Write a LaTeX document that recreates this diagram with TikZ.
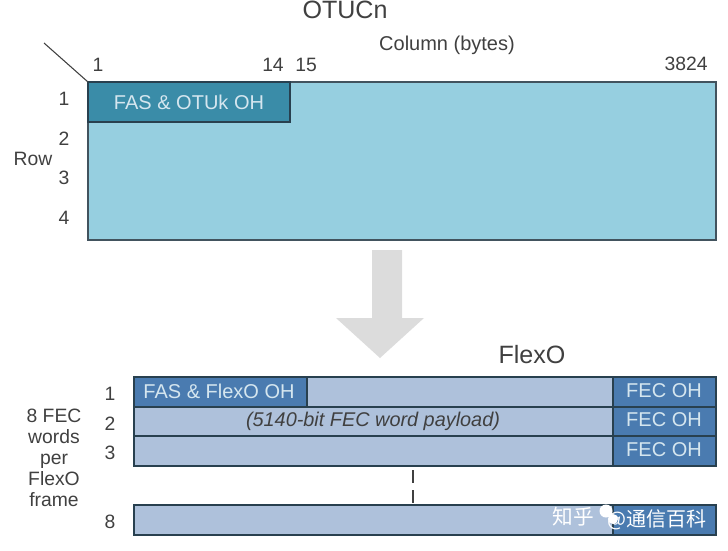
\documentclass[tikz,border=0pt]{standalone}
\usepackage{fontspec}
\setmainfont{Liberation Sans}
\newfontfamily\cjk{Noto Sans CJK SC}
\definecolor{txt}{HTML}{404040}
\definecolor{otu}{HTML}{96CFE0}
\definecolor{otud}{HTML}{3A8CA8}
\definecolor{flex}{HTML}{AEC1DB}
\definecolor{flexd}{HTML}{4A7BB0}
\definecolor{edge}{HTML}{28404F}
\definecolor{arrowg}{HTML}{DCDCDC}
\definecolor{softtxt}{HTML}{D5E6EF}
\tikzset{
  lbl/.style={text=txt,font=\fontsize{14.5}{17}\selectfont,inner sep=0pt},
  ttl/.style={text=txt,font=\fontsize{18.8}{22}\selectfont,inner sep=0pt},
  onDark/.style={text=softtxt,font=\fontsize{15}{18}\selectfont,inner sep=0pt},
  otubox/.style={draw=edge!70!gray,line width=1pt,fill=otu},
  otuhead/.style={draw=edge,line width=1.1pt,fill=otud},
  flexbox/.style={draw=edge,line width=1.1pt,fill=flex},
  flexhead/.style={draw=edge,line width=1.1pt,fill=flexd},
}
\begin{document}
\begin{tikzpicture}[x=0.75pt,y=-0.75pt]
\useasboundingbox (0,0) rectangle (728,550);
% title and top frame
\node[ttl] (t1) at (345,10) {OTUCn};
\node[lbl,font=\fontsize{15}{18}\selectfont] (col) at (447,45) {Column (bytes)};
\coordinate (cut) at (44,43);
\draw[otubox] (88,82) rectangle (716,240);
\draw[otuhead] (88,82) rectangle (290,122);
\coordinate (corner) at (88,82);
\draw[txt,line width=0.8pt] (cut) -- (corner);
\node[onDark] (fas1) at (189,102) {FAS \& OTUk OH};
\node[lbl] (c1) at (98,65) {1};
\node[lbl] (c14) at (273,65) {14};
\node[lbl] (c15) at (306,65) {15};
\node[lbl] (c3824) at (686,64) {3824};
\node[lbl] (r1) at (64,99) {1};
\node[lbl] (r2) at (64,139) {2};
\node[lbl] (r3) at (64,178) {3};
\node[lbl] (r4) at (64,218) {4};
\node[lbl] (row) at (33,159) {Row};
% big arrow
\fill[arrowg] (372,250) -- (402,250) -- (402,318) -- (424,318) -- (380,358) -- (336,318) -- (372,318) -- cycle;
% FlexO frame
\node[ttl] (t2) at (532,355) {FlexO};
\draw[flexbox] (134,377) rectangle (613,407);
\draw[flexbox] (134,407) rectangle (613,436);
\draw[flexbox] (134,436) rectangle (613,466);
\draw[flexbox] (134,505) rectangle (613,535);
\draw[flexhead] (134,377) rectangle (307,407);
\draw[flexhead] (613,377) rectangle (716,407);
\draw[flexhead] (613,407) rectangle (716,436);
\draw[flexhead] (613,436) rectangle (716,466);
\draw[flexhead] (613,505) rectangle (716,535);
\node[onDark] (fas2) at (219,391) {FAS \& FlexO OH};
\node[onDark] (f1) at (664,391) {FEC OH};
\node[onDark] (f2) at (664,420) {FEC OH};
\node[onDark] (f3) at (664,450) {FEC OH};
\node[lbl,font=\fontsize{14.9}{18}\itshape\selectfont] (pl) at (373,421) {(5140-bit FEC word payload)};
\node[lbl] (n1) at (110,394) {1};
\node[lbl] (n2) at (110,424) {2};
\node[lbl] (n3) at (110,453) {3};
\node[lbl] (n8) at (110,522) {8};
\node[lbl,align=center,font=\fontsize{14.5}{15.75}\selectfont] (words) at (54,458) {8 FEC\\words\\per\\FlexO\\frame};
\coordinate (d1) at (413,470);
\coordinate (d2) at (413,503);
\draw[txt,line width=1.5pt,dash pattern=on 9.75pt off 5.25pt] (d1) -- (d2);
% watermark
\fill[white] (606,511) circle (6.5);
\fill[white] (613,519) circle (5);
\node[inner sep=0pt,text=white,font=\cjk\fontsize{15.5}{18}\selectfont] (wm1) at (573,517) {知乎};
\node[inner sep=0pt,text=white,font=\cjk\fontsize{15}{18}\selectfont] (wm2) at (657,520) {@通信百科};
\end{tikzpicture}
\end{document}
